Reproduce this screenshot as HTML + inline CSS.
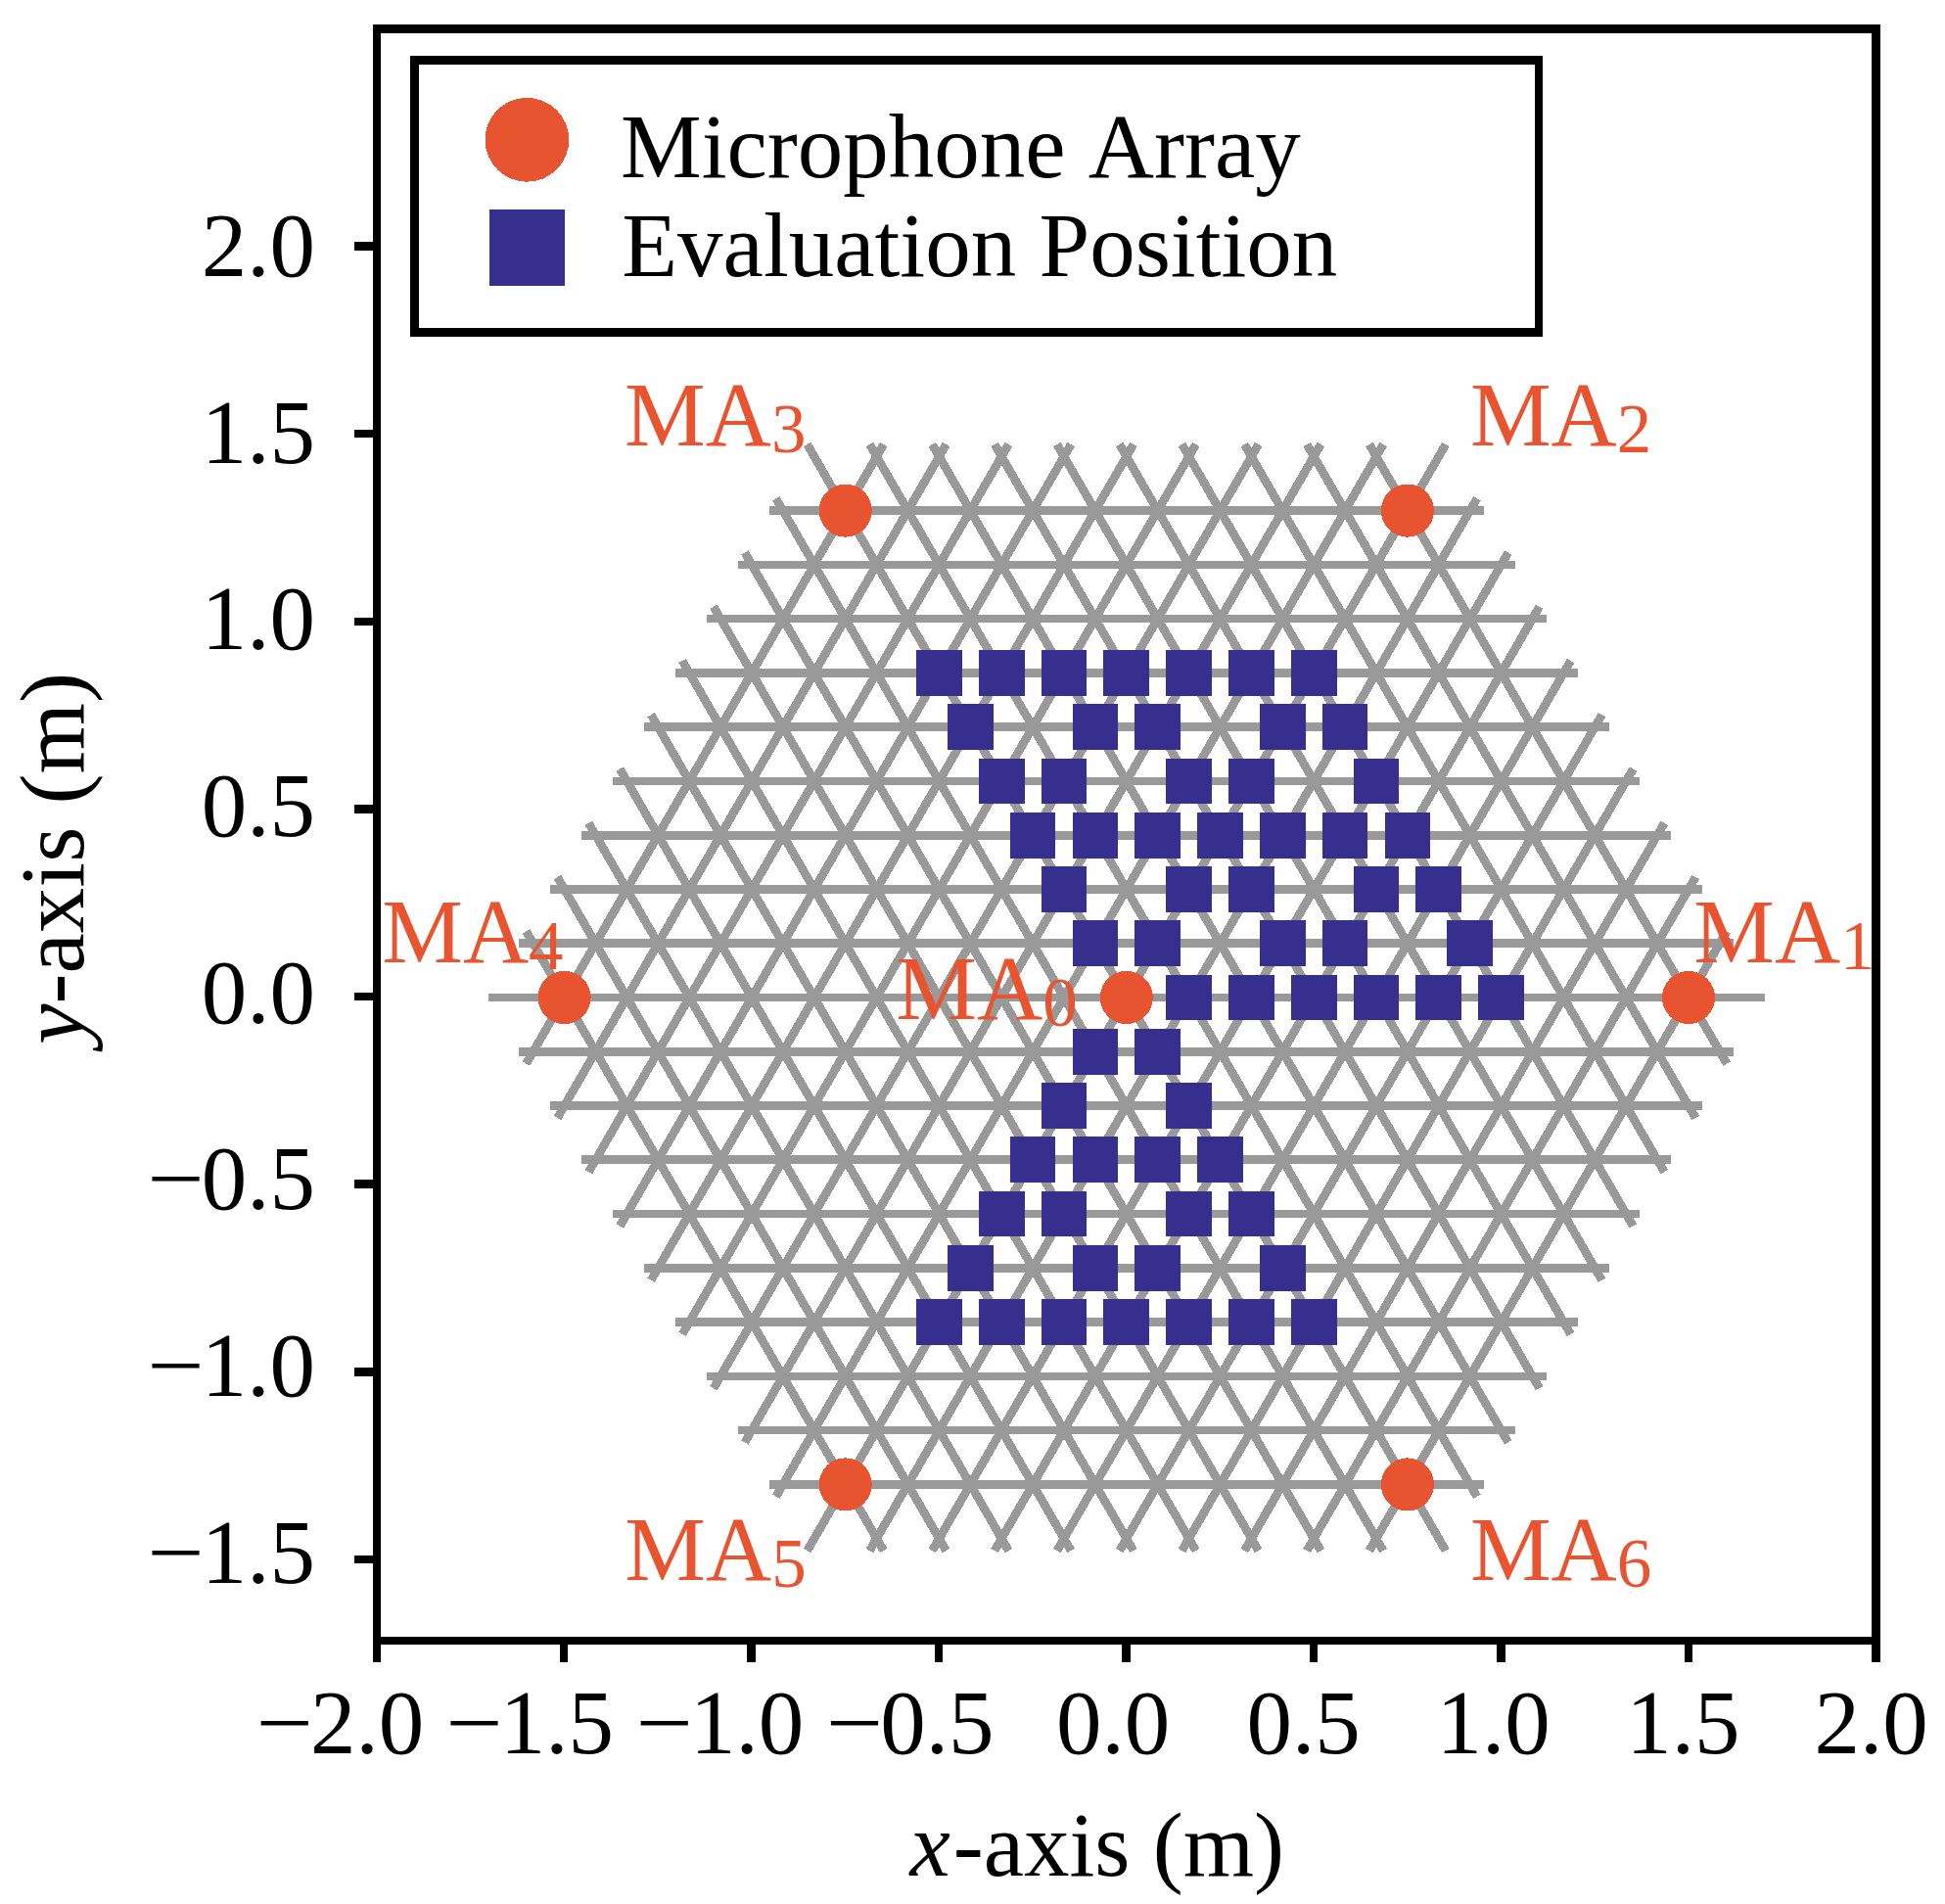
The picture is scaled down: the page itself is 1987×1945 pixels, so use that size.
<!DOCTYPE html>
<html lang="en"><head><meta charset="utf-8"><title>Microphone array layout</title>
<style>html,body{margin:0;padding:0;background:#fff}svg{display:block}text{font-family:"Liberation Serif",serif;font-kerning:none;white-space:pre}</style></head>
<body>
<svg width="1987" height="1945" viewBox="0 0 1987 1945" shape-rendering="crispEdges">
<rect x="0" y="0" width="1987" height="1945" fill="#fff"/>
<path d="M785.61 1516.40L1515.99 1516.40 M753.71 1461.13L1547.89 1461.13 M721.81 1405.87L1579.79 1405.87 M689.91 1350.60L1611.69 1350.60 M658.01 1295.33L1643.59 1295.33 M626.11 1240.07L1675.49 1240.07 M594.21 1184.80L1707.39 1184.80 M562.31 1129.53L1739.29 1129.53 M530.41 1074.27L1771.19 1074.27 M498.51 1019.00L1803.09 1019.00 M530.41 963.73L1771.19 963.73 M562.31 908.47L1739.29 908.47 M594.21 853.20L1707.39 853.20 M626.11 797.93L1675.49 797.93 M658.01 742.67L1643.59 742.67 M689.91 687.40L1611.69 687.40 M721.81 632.13L1579.79 632.13 M753.71 576.87L1547.89 576.87 M785.61 521.60L1515.99 521.60 M1398.85 1584.05L1764.05 951.35 M1335.05 1584.05L1732.15 896.09 M1271.25 1584.05L1700.25 840.82 M1207.45 1584.05L1668.35 785.55 M1143.65 1584.05L1636.45 730.29 M1079.85 1584.05L1604.55 675.02 M1016.05 1584.05L1572.65 619.75 M952.25 1584.05L1540.75 564.49 M888.45 1584.05L1508.85 509.22 M824.65 1584.05L1476.95 453.95 M792.75 1528.78L1413.15 453.95 M760.85 1473.51L1349.35 453.95 M728.95 1418.25L1285.55 453.95 M697.05 1362.98L1221.75 453.95 M665.15 1307.71L1157.95 453.95 M633.25 1252.45L1094.15 453.95 M601.35 1197.18L1030.35 453.95 M569.45 1141.91L966.55 453.95 M537.55 1086.65L902.75 453.95 M1764.05 1086.65L1398.85 453.95 M1732.15 1141.91L1335.05 453.95 M1700.25 1197.18L1271.25 453.95 M1668.35 1252.45L1207.45 453.95 M1636.45 1307.71L1143.65 453.95 M1604.55 1362.98L1079.85 453.95 M1572.65 1418.25L1016.05 453.95 M1540.75 1473.51L952.25 453.95 M1508.85 1528.78L888.45 453.95 M1476.95 1584.05L824.65 453.95 M1413.15 1584.05L792.75 509.22 M1349.35 1584.05L760.85 564.49 M1285.55 1584.05L728.95 619.75 M1221.75 1584.05L697.05 675.02 M1157.95 1584.05L665.15 730.29 M1094.15 1584.05L633.25 785.55 M1030.35 1584.05L601.35 840.82 M966.55 1584.05L569.45 896.09 M902.75 1584.05L537.55 951.35" stroke="#999999" stroke-width="8.7" fill="none" stroke-linecap="butt" shape-rendering="crispEdges"/>
<g fill="#362F8E"><rect x="936.05" y="664.05" width="46.7" height="46.7"/><rect x="999.85" y="664.05" width="46.7" height="46.7"/><rect x="1063.65" y="664.05" width="46.7" height="46.7"/><rect x="1127.45" y="664.05" width="46.7" height="46.7"/><rect x="1191.25" y="664.05" width="46.7" height="46.7"/><rect x="1255.05" y="664.05" width="46.7" height="46.7"/><rect x="1318.85" y="664.05" width="46.7" height="46.7"/><rect x="967.95" y="719.32" width="46.7" height="46.7"/><rect x="1095.55" y="719.32" width="46.7" height="46.7"/><rect x="1159.35" y="719.32" width="46.7" height="46.7"/><rect x="1286.95" y="719.32" width="46.7" height="46.7"/><rect x="1350.75" y="719.32" width="46.7" height="46.7"/><rect x="999.85" y="774.58" width="46.7" height="46.7"/><rect x="1063.65" y="774.58" width="46.7" height="46.7"/><rect x="1191.25" y="774.58" width="46.7" height="46.7"/><rect x="1255.05" y="774.58" width="46.7" height="46.7"/><rect x="1382.65" y="774.58" width="46.7" height="46.7"/><rect x="1031.75" y="829.85" width="46.7" height="46.7"/><rect x="1095.55" y="829.85" width="46.7" height="46.7"/><rect x="1159.35" y="829.85" width="46.7" height="46.7"/><rect x="1223.15" y="829.85" width="46.7" height="46.7"/><rect x="1286.95" y="829.85" width="46.7" height="46.7"/><rect x="1350.75" y="829.85" width="46.7" height="46.7"/><rect x="1414.55" y="829.85" width="46.7" height="46.7"/><rect x="1063.65" y="885.12" width="46.7" height="46.7"/><rect x="1191.25" y="885.12" width="46.7" height="46.7"/><rect x="1255.05" y="885.12" width="46.7" height="46.7"/><rect x="1382.65" y="885.12" width="46.7" height="46.7"/><rect x="1446.45" y="885.12" width="46.7" height="46.7"/><rect x="1095.55" y="940.38" width="46.7" height="46.7"/><rect x="1159.35" y="940.38" width="46.7" height="46.7"/><rect x="1286.95" y="940.38" width="46.7" height="46.7"/><rect x="1350.75" y="940.38" width="46.7" height="46.7"/><rect x="1478.35" y="940.38" width="46.7" height="46.7"/><rect x="1191.25" y="995.65" width="46.7" height="46.7"/><rect x="1255.05" y="995.65" width="46.7" height="46.7"/><rect x="1318.85" y="995.65" width="46.7" height="46.7"/><rect x="1382.65" y="995.65" width="46.7" height="46.7"/><rect x="1446.45" y="995.65" width="46.7" height="46.7"/><rect x="1510.25" y="995.65" width="46.7" height="46.7"/><rect x="1095.55" y="1050.92" width="46.7" height="46.7"/><rect x="1159.35" y="1050.92" width="46.7" height="46.7"/><rect x="1063.65" y="1106.18" width="46.7" height="46.7"/><rect x="1191.25" y="1106.18" width="46.7" height="46.7"/><rect x="1031.75" y="1161.45" width="46.7" height="46.7"/><rect x="1095.55" y="1161.45" width="46.7" height="46.7"/><rect x="1159.35" y="1161.45" width="46.7" height="46.7"/><rect x="1223.15" y="1161.45" width="46.7" height="46.7"/><rect x="999.85" y="1216.72" width="46.7" height="46.7"/><rect x="1063.65" y="1216.72" width="46.7" height="46.7"/><rect x="1191.25" y="1216.72" width="46.7" height="46.7"/><rect x="1255.05" y="1216.72" width="46.7" height="46.7"/><rect x="967.95" y="1271.98" width="46.7" height="46.7"/><rect x="1095.55" y="1271.98" width="46.7" height="46.7"/><rect x="1159.35" y="1271.98" width="46.7" height="46.7"/><rect x="1286.95" y="1271.98" width="46.7" height="46.7"/><rect x="936.05" y="1327.25" width="46.7" height="46.7"/><rect x="999.85" y="1327.25" width="46.7" height="46.7"/><rect x="1063.65" y="1327.25" width="46.7" height="46.7"/><rect x="1127.45" y="1327.25" width="46.7" height="46.7"/><rect x="1191.25" y="1327.25" width="46.7" height="46.7"/><rect x="1255.05" y="1327.25" width="46.7" height="46.7"/><rect x="1318.85" y="1327.25" width="46.7" height="46.7"/></g>
<g fill="#E95430"><circle cx="1150.80" cy="1019.00" r="27.05"/><circle cx="1725.00" cy="1019.00" r="27.05"/><circle cx="1437.90" cy="521.60" r="27.05"/><circle cx="863.70" cy="521.60" r="27.05"/><circle cx="576.60" cy="1019.00" r="27.05"/><circle cx="863.70" cy="1516.40" r="27.05"/><circle cx="1437.90" cy="1516.40" r="27.05"/></g>
<text x="915.32" y="1040.90"  font-size="93.0" fill="#E95430">MA<tspan font-size="71.0" dy="7.0">0</tspan></text>
<text x="1730.22" y="983.00"  font-size="93.0" fill="#E95430">MA<tspan font-size="71.0" dy="7.0">1</tspan></text>
<text x="1501.92" y="454.80"  font-size="93.0" fill="#E95430">MA<tspan font-size="71.0" dy="7.0">2</tspan></text>
<text x="638.02" y="455.10"  font-size="93.0" fill="#E95430">MA<tspan font-size="71.0" dy="7.0">3</tspan></text>
<text x="390.22" y="982.60"  font-size="93.0" fill="#E95430">MA<tspan font-size="71.0" dy="7.0">4</tspan></text>
<text x="638.32" y="1613.80"  font-size="93.0" fill="#E95430">MA<tspan font-size="71.0" dy="7.0">5</tspan></text>
<text x="1501.92" y="1613.80"  font-size="93.0" fill="#E95430">MA<tspan font-size="71.0" dy="7.0">6</tspan></text>
<rect x="385.0" y="29.4" width="1531.5" height="1646.6" fill="none" stroke="#000" stroke-width="8.4"/>
<path d="M385.00 1676.0V1697.8 M576.10 1676.0V1697.8 M767.60 1676.0V1697.8 M959.10 1676.0V1697.8 M1150.60 1676.0V1697.8 M1342.10 1676.0V1697.8 M1533.60 1676.0V1697.8 M1725.10 1676.0V1697.8 M1916.50 1676.0V1697.8 M385.0 1593.05H362.0 M385.0 1401.40H362.0 M385.0 1209.75H362.0 M385.0 1018.10H362.0 M385.0 826.45H362.0 M385.0 634.80H362.0 M385.0 443.15H362.0 M385.0 251.50H362.0" stroke="#000" stroke-width="8.6" fill="none"/>
<text x="261.55" y="1790.70" font-size="93.0"><tspan textLength="58.4" lengthAdjust="spacingAndGlyphs">−</tspan><tspan dx="-2.9">2.0</tspan></text>
<text x="455.35" y="1790.70" font-size="93.0"><tspan textLength="58.4" lengthAdjust="spacingAndGlyphs">−</tspan><tspan dx="-2.9">1.5</tspan></text>
<text x="649.45" y="1790.70" font-size="93.0"><tspan textLength="58.4" lengthAdjust="spacingAndGlyphs">−</tspan><tspan dx="-2.9">1.0</tspan></text>
<text x="843.65" y="1790.70" font-size="93.0"><tspan textLength="58.4" lengthAdjust="spacingAndGlyphs">−</tspan><tspan dx="-2.9">0.5</tspan></text>
<text x="1079.00" y="1790.70" font-size="93.0">0.0</text>
<text x="1273.60" y="1790.70" font-size="93.0">0.5</text>
<text x="1467.40" y="1790.70" font-size="93.0">1.0</text>
<text x="1661.30" y="1790.70" font-size="93.0">1.5</text>
<text x="1853.50" y="1790.70" font-size="93.0">2.0</text>
<text x="205.75" y="282.00" font-size="93.0">2.0</text>
<text x="205.75" y="472.65" font-size="93.0">1.5</text>
<text x="205.75" y="663.30" font-size="93.0">1.0</text>
<text x="205.75" y="853.95" font-size="93.0">0.5</text>
<text x="205.75" y="1044.60" font-size="93.0">0.0</text>
<text x="150.25" y="1235.25" font-size="93.0"><tspan textLength="58.4" lengthAdjust="spacingAndGlyphs">−</tspan><tspan dx="-2.9">0.5</tspan></text>
<text x="150.25" y="1425.90" font-size="93.0"><tspan textLength="58.4" lengthAdjust="spacingAndGlyphs">−</tspan><tspan dx="-2.9">1.0</tspan></text>
<text x="150.25" y="1616.55" font-size="93.0"><tspan textLength="58.4" lengthAdjust="spacingAndGlyphs">−</tspan><tspan dx="-2.9">1.5</tspan></text>
<text x="929.60" y="1916.4"  font-size="93.0" fill="#000"><tspan font-style="italic">x</tspan><tspan dx="2.8">-axis (m)</tspan></text>
<text transform="translate(84.6 1066.7) rotate(-90)" x="0" y="0"  font-size="93.0" fill="#000"><tspan font-style="italic">y</tspan>-axis (m)</text>
<rect x="423.4" y="61.5" width="1148.4" height="278.3" fill="#fff" stroke="#000" stroke-width="8.6"/>
<circle cx="538.4" cy="142.8" r="42.9" fill="#E95430"/>
<rect x="500" y="214" width="77.2" height="78" fill="#362F8E"/>
<text x="634.02" y="180.9"  font-size="93.0" fill="#000">Microphone Array</text>
<text x="635.32" y="282.4"  font-size="93.0" fill="#000">Evaluation Position</text>
</svg>
</body></html>
